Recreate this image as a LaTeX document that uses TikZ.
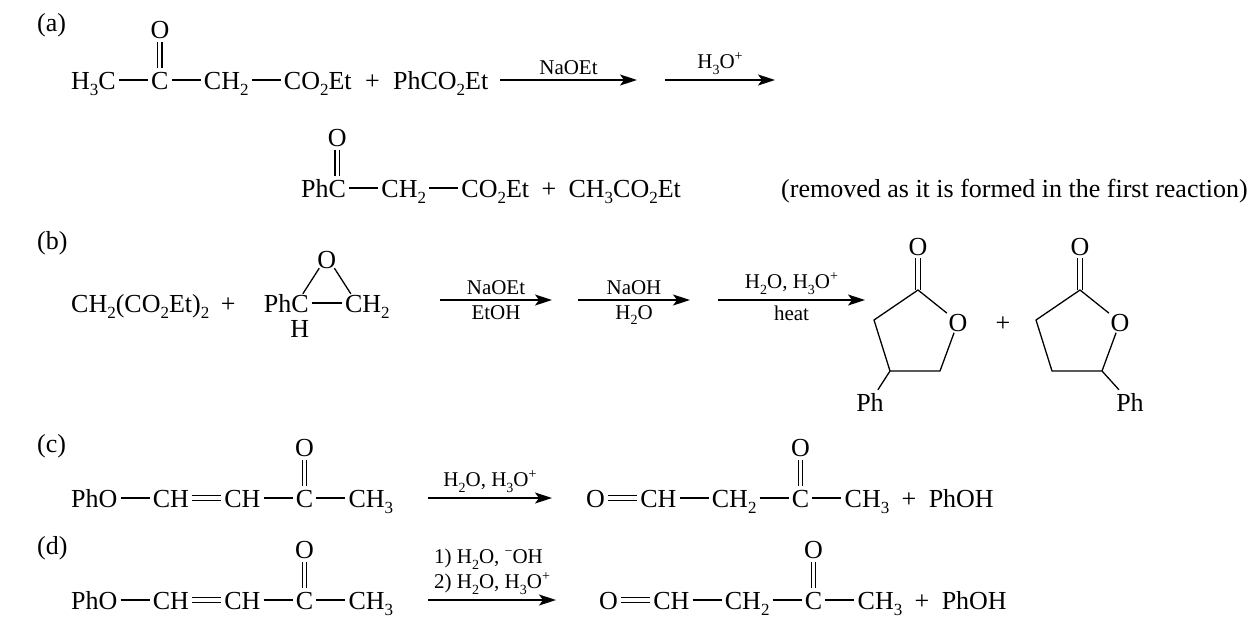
\documentclass[tikz,border=0pt]{standalone}
\usepackage{fontspec}
\setmainfont{Liberation Serif}
\usetikzlibrary{positioning,arrows.meta,calc}
\newcommand\mysub[1]{\raisebox{-0.25em}{\fontsize{17}{17}\selectfont #1}}
\newcommand\mysup[1]{\raisebox{0.42em}{\fontsize{17}{17}\selectfont #1}}
\newcommand\lsub[1]{\raisebox{-0.25em}{\fontsize{14}{14}\selectfont #1}}
\newcommand\lsup[1]{\raisebox{0.38em}{\fontsize{14}{14}\selectfont #1}}
\begin{document}
\begin{tikzpicture}[x=1pt,y=-1pt,
  ch/.style={inner sep=3pt,text height=18pt,text depth=0pt,font=\fontsize{26}{30}\selectfont},
  lab/.style={inner sep=1pt,font=\fontsize{21}{25}\selectfont},
  bd/.style={line width=1.3pt},
  arr/.style={line width=1.3pt,-{Stealth[length=17pt,width=11pt,inset=4pt]}},
  node distance=29pt]
\useasboundingbox (0,0) rectangle (1257,635);
% labels
\node[ch,anchor=west] (la) at (34,22) {(a)};
\node[ch,anchor=west] (lb) at (34,240) {(b)};
\node[ch,anchor=west] (lc) at (34,443) {(c)};
\node[ch,anchor=west] (ld) at (34,545) {(d)};
% row a1
\node[ch,anchor=west] (a1) at (68,80) {H\mysub{3}C};
\node[ch,right=of a1] (a2) {C};
\node[ch,right=of a2] (a3) {CH\mysub{2}};
\node[ch,right=of a3] (a4) {CO\mysub{2}Et};
\node[ch,right=7pt of a4] (a5) {+};
\node[ch,right=7pt of a5] (a6) {PhCO\mysub{2}Et};
\node[ch,above=26pt of a2] (a2o) {O};
\draw[bd] (a1)--(a2) (a2)--(a3) (a3)--(a4);
\draw[bd] ([xshift=-2.2pt]a2.north)--([xshift=-2.2pt]a2o.south) ([xshift=2.2pt]a2.north)--([xshift=2.2pt]a2o.south);
\coordinate (r1s) at (500,80); \coordinate (r1e) at (637,80);
\coordinate (r2s) at (665,80); \coordinate (r2e) at (775,80);
\draw[arr] (r1s) -- node[lab,above=4pt]{NaOEt} (r1e);
\draw[arr] (r2s) -- node[lab,above=4pt]{H\lsub{3}O\lsup{+}} (r2e);
% row a2
\node[ch,anchor=west] (b1) at (298,188) {PhC};
\node[ch,right=of b1] (b2) {CH\mysub{2}};
\node[ch,right=of b2] (b3) {CO\mysub{2}Et};
\node[ch,right=6pt of b3] (b4) {+};
\node[ch,right=6pt of b4] (b5) {CH\mysub{3}CO\mysub{2}Et};
\node[ch,anchor=west] (b6) at (778,188) {(removed as it is formed in the first reaction)};
\node[ch,anchor=south] (b1o) at ([xshift=-12pt,yshift=26pt]b1.north east) {O};
\draw[bd] (b1)--(b2) (b2)--(b3);
\draw[bd] ([xshift=-14.2pt]b1.north east)--([xshift=-2.2pt]b1o.south) ([xshift=-9.8pt]b1.north east)--([xshift=2.2pt]b1o.south);
% row b
\node[ch,anchor=west] (c1) at (68,303) {CH\mysub{2}(CO\mysub{2}Et)\mysub{2}};
\node[ch,right=5pt of c1] (c2) {+};
\node[ch,right=22pt of c2] (c3) {PhC};
\node[ch,right=30pt of c3] (c4) {CH\mysub{2}};
\draw[bd] (c3)--(c4);
\node[ch] (c5) at ($(c3.east)!0.5!(c4.west)+(0,-44)$) {O};
\draw[bd] ([xshift=-9pt,yshift=-3pt]c3.north east) -- ([xshift=5pt,yshift=3pt]c5.south west);
\draw[bd] ([xshift=9pt,yshift=-3pt]c4.north west) -- ([xshift=-5pt,yshift=3pt]c5.south east);
\node[ch,anchor=north] (c6) at ([xshift=-12pt,yshift=-1pt]c3.south east) {H};
\coordinate (r3s) at (440,300); \coordinate (r3e) at (552,300);
\coordinate (r4s) at (578,300); \coordinate (r4e) at (690,300);
\coordinate (r5s) at (718,300); \coordinate (r5e) at (865,300);
\draw[arr] (r3s) -- node[lab,above=4pt]{NaOEt} node[lab,below=4pt]{EtOH} (r3e);
\draw[arr] (r4s) -- node[lab,above=4pt]{NaOH} node[lab,below=4pt]{H\lsub{2}O} (r4e);
\draw[arr] (r5s) -- node[lab,above=4pt]{H\lsub{2}O, H\lsub{3}O\lsup{+}} node[lab,below=4pt]{heat} (r5e);
% lactone 1
\coordinate (l1a) at (918,290); \coordinate (l1b) at (874,320);
\coordinate (l1c) at (890,371); \coordinate (l1d) at (940,371);
\node[ch,inner sep=1.5pt] (l1o) at (958,322) {O};
\node[ch] (l1co) at (918,246) {O};
\node[ch] (l1ph) at (870,402) {Ph};
\draw[bd,line join=round] (l1o) -- (l1a) -- (l1b) -- (l1c) -- (l1d) -- (l1o);
\draw[bd] ([xshift=-2.2pt]l1a) -- ([xshift=-2.2pt]l1co.south) ([xshift=2.2pt]l1a) -- ([xshift=2.2pt]l1co.south);
\draw[bd] (l1c) -- (l1ph);
\node[ch] (lp) at (1003,322) {+};
% lactone 2
\coordinate (l2a) at (1080,290); \coordinate (l2b) at (1036,320);
\coordinate (l2c) at (1052,371); \coordinate (l2d) at (1102,371);
\node[ch,inner sep=1.5pt] (l2o) at (1120,322) {O};
\node[ch] (l2co) at (1080,246) {O};
\node[ch] (l2ph) at (1130,402) {Ph};
\draw[bd,line join=round] (l2o) -- (l2a) -- (l2b) -- (l2c) -- (l2d) -- (l2o);
\draw[bd] ([xshift=-2.2pt]l2a) -- ([xshift=-2.2pt]l2co.south) ([xshift=2.2pt]l2a) -- ([xshift=2.2pt]l2co.south);
\draw[bd] (l2d) -- (l2ph);
% row c
\node[ch,anchor=west] (d1) at (68,498) {PhO};
\node[ch,right=of d1] (d2) {CH};
\node[ch,right=of d2] (d3) {CH};
\node[ch,right=of d3] (d4) {C};
\node[ch,right=of d4] (d5) {CH\mysub{3}};
\node[ch,above=26pt of d4] (d4o) {O};
\draw[bd] (d1)--(d2) (d3)--(d4) (d4)--(d5);
\draw[bd] ([yshift=2.2pt]d2.east)--([yshift=2.2pt]d3.west) ([yshift=-2.2pt]d2.east)--([yshift=-2.2pt]d3.west);
\draw[bd] ([xshift=-2.2pt]d4.north)--([xshift=-2.2pt]d4o.south) ([xshift=2.2pt]d4.north)--([xshift=2.2pt]d4o.south);
\coordinate (r6s) at (428,498); \coordinate (r6e) at (552,498);
\draw[arr] (r6s) -- node[lab,above=4pt]{H\lsub{2}O, H\lsub{3}O\lsup{+}} (r6e);
\node[ch,anchor=west] (e1) at (583,498) {O};
\node[ch,right=of e1] (e2) {CH};
\node[ch,right=of e2] (e3) {CH\mysub{2}};
\node[ch,right=of e3] (e4) {C};
\node[ch,right=of e4] (e5) {CH\mysub{3}};
\node[ch,right=6pt of e5] (e6) {+};
\node[ch,right=6pt of e6] (e7) {PhOH};
\node[ch,above=26pt of e4] (e4o) {O};
\draw[bd] (e2)--(e3) (e3)--(e4) (e4)--(e5);
\draw[bd] ([yshift=2.2pt]e1.east)--([yshift=2.2pt]e2.west) ([yshift=-2.2pt]e1.east)--([yshift=-2.2pt]e2.west);
\draw[bd] ([xshift=-2.2pt]e4.north)--([xshift=-2.2pt]e4o.south) ([xshift=2.2pt]e4.north)--([xshift=2.2pt]e4o.south);
% row d
\node[ch,anchor=west] (f1) at (68,600) {PhO};
\node[ch,right=of f1] (f2) {CH};
\node[ch,right=of f2] (f3) {CH};
\node[ch,right=of f3] (f4) {C};
\node[ch,right=of f4] (f5) {CH\mysub{3}};
\node[ch,above=26pt of f4] (f4o) {O};
\draw[bd] (f1)--(f2) (f3)--(f4) (f4)--(f5);
\draw[bd] ([yshift=2.2pt]f2.east)--([yshift=2.2pt]f3.west) ([yshift=-2.2pt]f2.east)--([yshift=-2.2pt]f3.west);
\draw[bd] ([xshift=-2.2pt]f4.north)--([xshift=-2.2pt]f4o.south) ([xshift=2.2pt]f4.north)--([xshift=2.2pt]f4o.south);
\coordinate (r7s) at (428,600); \coordinate (r7e) at (556,600);
\draw[arr] (r7s) -- node[lab,above=4pt,align=left]{1) H\lsub{2}O, \lsup{−}OH\\2) H\lsub{2}O, H\lsub{3}O\lsup{+}} (r7e);
\node[ch,anchor=west] (g1) at (596,600) {O};
\node[ch,right=of g1] (g2) {CH};
\node[ch,right=of g2] (g3) {CH\mysub{2}};
\node[ch,right=of g3] (g4) {C};
\node[ch,right=of g4] (g5) {CH\mysub{3}};
\node[ch,right=6pt of g5] (g6) {+};
\node[ch,right=6pt of g6] (g7) {PhOH};
\node[ch,above=26pt of g4] (g4o) {O};
\draw[bd] (g2)--(g3) (g3)--(g4) (g4)--(g5);
\draw[bd] ([yshift=2.2pt]g1.east)--([yshift=2.2pt]g2.west) ([yshift=-2.2pt]g1.east)--([yshift=-2.2pt]g2.west);
\draw[bd] ([xshift=-2.2pt]g4.north)--([xshift=-2.2pt]g4o.south) ([xshift=2.2pt]g4.north)--([xshift=2.2pt]g4o.south);
\end{tikzpicture}
\end{document}
